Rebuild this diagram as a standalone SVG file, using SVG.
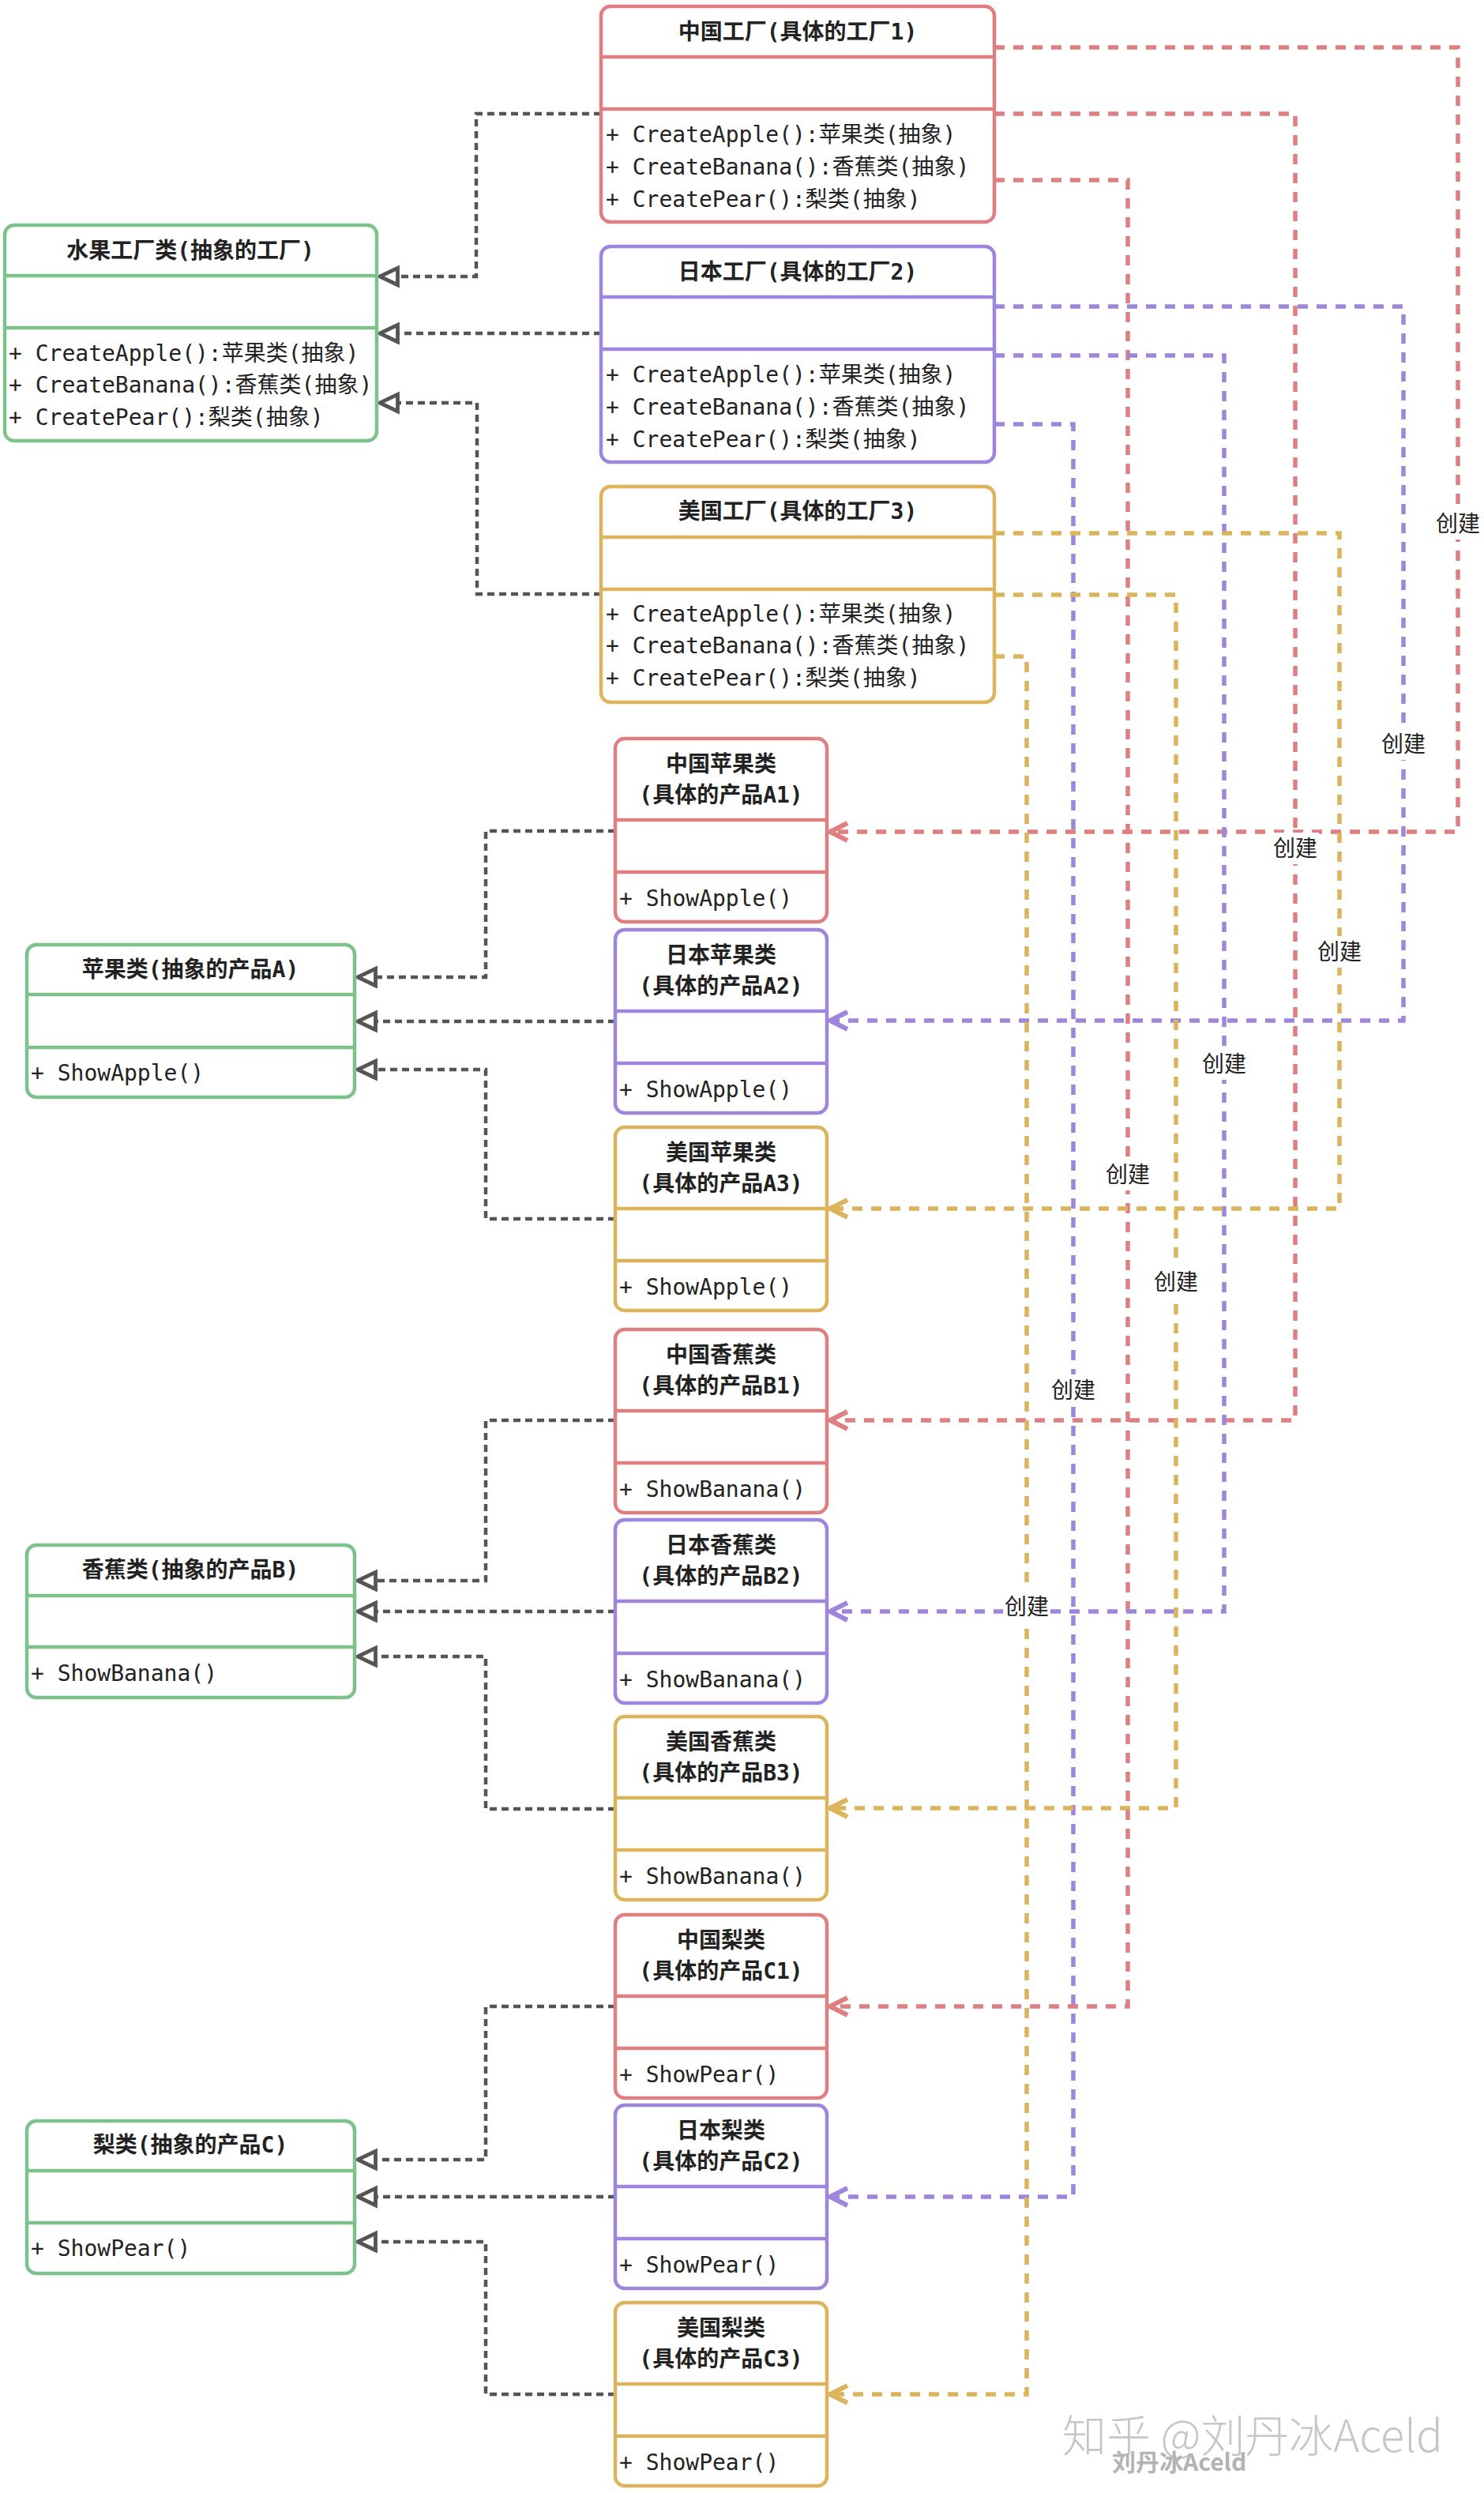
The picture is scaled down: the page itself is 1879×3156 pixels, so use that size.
<svg xmlns="http://www.w3.org/2000/svg" width="1879" height="3156" viewBox="0 0 1879 3156">
<style>
.bx{fill:#fff;stroke-width:4.5}
.dv{stroke-width:4.5}
.r{stroke:#e07f81}.p{stroke:#9d86dc}.y{stroke:#dcb45c}.g{stroke:#7dc18b}
.t{font-family:"DejaVu Sans Mono","Noto Sans CJK SC",monospace;font-size:28px;fill:#222}
.b{font-weight:bold}.m{text-anchor:middle}
.gc{fill:none;stroke:#555;stroke-width:4.5;stroke-dasharray:9 6;marker-end:url(#tri)}
.cr{fill:none;stroke:#e07f81;stroke-width:5.5;stroke-dasharray:13 11;marker-end:url(#ar)}
.cp{fill:none;stroke:#9d86dc;stroke-width:5.5;stroke-dasharray:13 11;marker-end:url(#ap)}
.cy{fill:none;stroke:#dcb45c;stroke-width:5.5;stroke-dasharray:13 11;marker-end:url(#ay)}
.lb{font-family:"Noto Sans CJK SC",sans-serif;font-size:28px;fill:#222;text-anchor:middle}
</style>
<defs>
<marker id="tri" markerUnits="userSpaceOnUse" markerWidth="30" markerHeight="30" viewBox="-24 -14 28 28" refX="0" refY="0" orient="auto" overflow="visible">
<path d="M-21,-10 L0,0 L-21,10 Z" fill="#fff" stroke="#555" stroke-width="4.5" stroke-dasharray="none"/>
</marker>
<marker id="ar" markerUnits="userSpaceOnUse" markerWidth="30" markerHeight="30" viewBox="-26 -14 30 28" refX="0" refY="0" orient="auto" overflow="visible">
<path d="M-22,-11 L0,0 L-22,11" fill="none" stroke="#e07f81" stroke-width="6" stroke-dasharray="none"/>
</marker>
<marker id="ap" markerUnits="userSpaceOnUse" markerWidth="30" markerHeight="30" viewBox="-26 -14 30 28" refX="0" refY="0" orient="auto" overflow="visible">
<path d="M-22,-11 L0,0 L-22,11" fill="none" stroke="#9d86dc" stroke-width="6" stroke-dasharray="none"/>
</marker>
<marker id="ay" markerUnits="userSpaceOnUse" markerWidth="30" markerHeight="30" viewBox="-26 -14 30 28" refX="0" refY="0" orient="auto" overflow="visible">
<path d="M-22,-11 L0,0 L-22,11" fill="none" stroke="#dcb45c" stroke-width="6" stroke-dasharray="none"/>
</marker>
</defs>
<rect width="1879" height="3156" fill="#fff"/>

<g id="connectors">
<path class="gc" d="M761,144 H603 V350 H481"/>
<path class="gc" d="M761,422 H481"/>
<path class="gc" d="M761,752 H604 V510 H481"/>
<path class="gc" d="M779,1052 H615 V1237 H453"/>
<path class="gc" d="M779,1293 H453"/>
<path class="gc" d="M779,1543 H615 V1354 H453"/>
<path class="gc" d="M779,1798 H615 V2001 H453"/>
<path class="gc" d="M779,2040 H453"/>
<path class="gc" d="M779,2290 H615 V2097 H453"/>
<path class="gc" d="M779,2540 H615 V2734 H453"/>
<path class="gc" d="M779,2781 H453"/>
<path class="gc" d="M779,3031 H615 V2838 H453"/>
<path class="cr" d="M1259,60 H1846 V1053 H1051"/>
<path class="cr" d="M1259,144 H1640 V1798 H1051"/>
<path class="cr" d="M1259,228 H1428 V2540 H1051"/>
<path class="cp" d="M1259,388 H1777 V1292 H1051"/>
<path class="cp" d="M1259,450 H1550 V2040 H1051"/>
<path class="cp" d="M1259,537 H1359 V2781 H1051"/>
<path class="cy" d="M1259,675 H1696 V1530 H1051"/>
<path class="cy" d="M1259,753 H1489 V2289 H1051"/>
<path class="cy" d="M1259,831 H1300 V3031 H1051"/>
<g id="labels">
<rect x="1816" y="643" width="60" height="40" fill="#fff"/><text class="lb" x="1846" y="673">创建</text>
<rect x="1747" y="922" width="60" height="40" fill="#fff"/><text class="lb" x="1777" y="952">创建</text>
<rect x="1610" y="1054" width="60" height="40" fill="#fff"/><text class="lb" x="1640" y="1084">创建</text>
<rect x="1666" y="1185" width="60" height="40" fill="#fff"/><text class="lb" x="1696" y="1215">创建</text>
<rect x="1520" y="1327" width="60" height="40" fill="#fff"/><text class="lb" x="1550" y="1357">创建</text>
<rect x="1398" y="1467" width="60" height="40" fill="#fff"/><text class="lb" x="1428" y="1497">创建</text>
<rect x="1459" y="1603" width="60" height="40" fill="#fff"/><text class="lb" x="1489" y="1633">创建</text>
<rect x="1329" y="1740" width="60" height="40" fill="#fff"/><text class="lb" x="1359" y="1770">创建</text>
<rect x="1270" y="2014" width="60" height="40" fill="#fff"/><text class="lb" x="1300" y="2044">创建</text>
</g>
</g>

<g id="china-factory">
<rect class="bx r" x="761" y="8" width="498" height="273" rx="12"/>
<line class="dv r" x1="761" y1="72" x2="1259" y2="72"/><line class="dv r" x1="761" y1="138" x2="1259" y2="138"/>
<text class="t b m" x="1010" y="50">中国工厂(具体的工厂1)</text>
<text class="t" x="767" y="180">+ CreateApple():苹果类(抽象)</text>
<text class="t" x="767" y="221">+ CreateBanana():香蕉类(抽象)</text>
<text class="t" x="767" y="262">+ CreatePear():梨类(抽象)</text>
</g>
<g id="japan-factory">
<rect class="bx p" x="761" y="312" width="498" height="273" rx="12"/>
<line class="dv p" x1="761" y1="376" x2="1259" y2="376"/><line class="dv p" x1="761" y1="442" x2="1259" y2="442"/>
<text class="t b m" x="1010" y="354">日本工厂(具体的工厂2)</text>
<text class="t" x="767" y="484">+ CreateApple():苹果类(抽象)</text>
<text class="t" x="767" y="525">+ CreateBanana():香蕉类(抽象)</text>
<text class="t" x="767" y="566">+ CreatePear():梨类(抽象)</text>
</g>
<g id="usa-factory">
<rect class="bx y" x="761" y="616" width="498" height="273" rx="12"/>
<line class="dv y" x1="761" y1="680" x2="1259" y2="680"/><line class="dv y" x1="761" y1="746" x2="1259" y2="746"/>
<text class="t b m" x="1010" y="657">美国工厂(具体的工厂3)</text>
<text class="t" x="767" y="787">+ CreateApple():苹果类(抽象)</text>
<text class="t" x="767" y="827">+ CreateBanana():香蕉类(抽象)</text>
<text class="t" x="767" y="868">+ CreatePear():梨类(抽象)</text>
</g>
<g id="fruit-factory">
<rect class="bx g" x="6" y="285" width="471" height="273" rx="12"/>
<line class="dv g" x1="6" y1="349" x2="477" y2="349"/><line class="dv g" x1="6" y1="415" x2="477" y2="415"/>
<text class="t b m" x="241" y="327">水果工厂类(抽象的工厂)</text>
<text class="t" x="11" y="457">+ CreateApple():苹果类(抽象)</text>
<text class="t" x="11" y="497">+ CreateBanana():香蕉类(抽象)</text>
<text class="t" x="11" y="538">+ CreatePear():梨类(抽象)</text>
</g>

<g id="apple-abstract">
<rect class="bx g" x="34" y="1196" width="415" height="193" rx="12"/>
<line class="dv g" x1="34" y1="1259" x2="449" y2="1259"/><line class="dv g" x1="34" y1="1326" x2="449" y2="1326"/>
<text class="t b m" x="241" y="1237">苹果类(抽象的产品A)</text>
<text class="t" x="39" y="1368">+ ShowApple()</text>
</g>
<g id="banana-abstract">
<rect class="bx g" x="34" y="1956" width="415" height="193" rx="12"/>
<line class="dv g" x1="34" y1="2020" x2="449" y2="2020"/><line class="dv g" x1="34" y1="2085" x2="449" y2="2085"/>
<text class="t b m" x="241" y="1997">香蕉类(抽象的产品B)</text>
<text class="t" x="39" y="2128">+ ShowBanana()</text>
</g>
<g id="pear-abstract">
<rect class="bx g" x="34" y="2685" width="415" height="193" rx="12"/>
<line class="dv g" x1="34" y1="2748" x2="449" y2="2748"/><line class="dv g" x1="34" y1="2814" x2="449" y2="2814"/>
<text class="t b m" x="241" y="2725">梨类(抽象的产品C)</text>
<text class="t" x="39" y="2856">+ ShowPear()</text>
</g>

<g id="A1">
<rect class="bx r" x="779" y="935" width="268" height="232" rx="12"/>
<line class="dv r" x1="779" y1="1038" x2="1047" y2="1038"/><line class="dv r" x1="779" y1="1104" x2="1047" y2="1104"/>
<text class="t b m" x="913" y="977">中国苹果类</text><text class="t b m" x="913" y="1016">(具体的产品A1)</text>
<text class="t" x="784" y="1147">+ ShowApple()</text>
</g>
<g id="A2">
<rect class="bx p" x="779" y="1177" width="268" height="232" rx="12"/>
<line class="dv p" x1="779" y1="1280" x2="1047" y2="1280"/><line class="dv p" x1="779" y1="1346" x2="1047" y2="1346"/>
<text class="t b m" x="913" y="1219">日本苹果类</text><text class="t b m" x="913" y="1258">(具体的产品A2)</text>
<text class="t" x="784" y="1389">+ ShowApple()</text>
</g>
<g id="A3">
<rect class="bx y" x="779" y="1427" width="268" height="232" rx="12"/>
<line class="dv y" x1="779" y1="1530" x2="1047" y2="1530"/><line class="dv y" x1="779" y1="1596" x2="1047" y2="1596"/>
<text class="t b m" x="913" y="1469">美国苹果类</text><text class="t b m" x="913" y="1508">(具体的产品A3)</text>
<text class="t" x="784" y="1639">+ ShowApple()</text>
</g>
<g id="B1">
<rect class="bx r" x="779" y="1683" width="268" height="232" rx="12"/>
<line class="dv r" x1="779" y1="1786" x2="1047" y2="1786"/><line class="dv r" x1="779" y1="1852" x2="1047" y2="1852"/>
<text class="t b m" x="913" y="1725">中国香蕉类</text><text class="t b m" x="913" y="1764">(具体的产品B1)</text>
<text class="t" x="784" y="1895">+ ShowBanana()</text>
</g>
<g id="B2">
<rect class="bx p" x="779" y="1924" width="268" height="232" rx="12"/>
<line class="dv p" x1="779" y1="2027" x2="1047" y2="2027"/><line class="dv p" x1="779" y1="2093" x2="1047" y2="2093"/>
<text class="t b m" x="913" y="1966">日本香蕉类</text><text class="t b m" x="913" y="2005">(具体的产品B2)</text>
<text class="t" x="784" y="2136">+ ShowBanana()</text>
</g>
<g id="B3">
<rect class="bx y" x="779" y="2173" width="268" height="232" rx="12"/>
<line class="dv y" x1="779" y1="2276" x2="1047" y2="2276"/><line class="dv y" x1="779" y1="2342" x2="1047" y2="2342"/>
<text class="t b m" x="913" y="2215">美国香蕉类</text><text class="t b m" x="913" y="2254">(具体的产品B3)</text>
<text class="t" x="784" y="2385">+ ShowBanana()</text>
</g>
<g id="C1">
<rect class="bx r" x="779" y="2424" width="268" height="232" rx="12"/>
<line class="dv r" x1="779" y1="2527" x2="1047" y2="2527"/><line class="dv r" x1="779" y1="2593" x2="1047" y2="2593"/>
<text class="t b m" x="913" y="2466">中国梨类</text><text class="t b m" x="913" y="2505">(具体的产品C1)</text>
<text class="t" x="784" y="2636">+ ShowPear()</text>
</g>
<g id="C2">
<rect class="bx p" x="779" y="2665" width="268" height="232" rx="12"/>
<line class="dv p" x1="779" y1="2768" x2="1047" y2="2768"/><line class="dv p" x1="779" y1="2834" x2="1047" y2="2834"/>
<text class="t b m" x="913" y="2707">日本梨类</text><text class="t b m" x="913" y="2746">(具体的产品C2)</text>
<text class="t" x="784" y="2877">+ ShowPear()</text>
</g>
<g id="C3">
<rect class="bx y" x="779" y="2915" width="268" height="232" rx="12"/>
<line class="dv y" x1="779" y1="3018" x2="1047" y2="3018"/><line class="dv y" x1="779" y1="3084" x2="1047" y2="3084"/>
<text class="t b m" x="913" y="2957">美国梨类</text><text class="t b m" x="913" y="2996">(具体的产品C3)</text>
<text class="t" x="784" y="3127">+ ShowPear()</text>
</g>

<g id="watermark">
<text x="1345" y="3104" font-family="Noto Sans CJK SC,sans-serif" font-size="56" font-weight="300" fill="#c6c6c6">知乎 @刘丹冰Aceld</text>
<text x="1408" y="3128" font-family="Noto Sans CJK SC,sans-serif" font-size="30" font-weight="bold" fill="#b3b3b3">刘丹冰Aceld</text>
</g>
</svg>
